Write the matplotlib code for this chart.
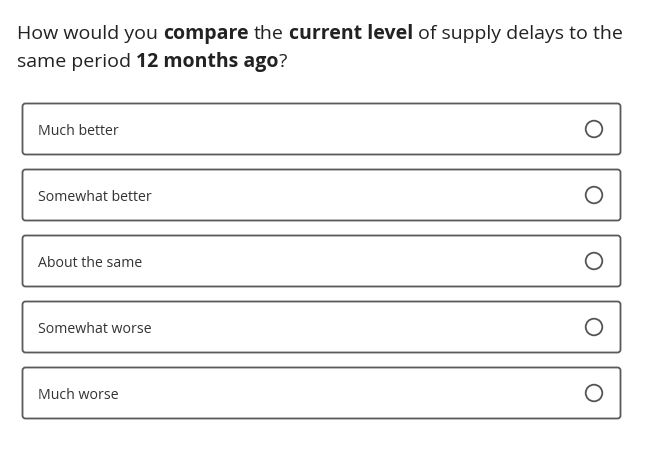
import matplotlib.pyplot as plt
from matplotlib.patches import FancyBboxPatch, Circle

# survey question, split into (text, bold) pieces per line
title_line1 = [("How would you", False), ("compare", True), ("the", False),
               ("current level", True), ("of supply delays to the", False)]
title_line2 = [("same period", False), ("12 months ago", True), ("?", False)]
options = ["Much better", "Somewhat better", "About the same",
           "Somewhat worse", "Much worse"]

W, H = 650, 452
fig = plt.figure(figsize=(W / 100, H / 100), dpi=100)
ax = fig.add_axes([0, 0, 1, 1])
ax.set_xlim(0, W)
ax.set_ylim(H, 0)
ax.axis('off')

font = "Open Sans"
tcol = "#222222"
renderer = fig.canvas.get_renderer()


def text_width(s, bold, size):
    t = ax.text(0, 0, s, fontsize=size, family=font,
                fontweight='bold' if bold else 'normal')
    w = t.get_window_extent(renderer).width
    t.remove()
    return w


def line_width(pieces, size):
    sp = text_width("x x", False, size) - text_width("xx", False, size)
    w = 0
    for i, (s, bold) in enumerate(pieces):
        if i > 0 and s != "?":
            w += sp
        w += text_width(s, bold, size)
    return w


# size the question so the first line spans about 17..621 px like the reference
title_size = 15.2 * 604 / line_width(title_line1, 15.2)
space_w = text_width("x x", False, title_size) - text_width("xx", False, title_size)


def draw_line(pieces, x0, y):
    x = x0
    for i, (s, bold) in enumerate(pieces):
        if i > 0 and s != "?":
            x += space_w
        ax.text(x, y, s, fontsize=title_size, family=font, color=tcol,
                fontweight='bold' if bold else 'normal', va='baseline', ha='left')
        x += text_width(s, bold, title_size)


draw_line(title_line1, 17, 39)
draw_line(title_line2, 17, 67)

# answer boxes
box_x, box_w, box_h = 22.5, 598, 51
top0, step = 104.5, 66
for i, label in enumerate(options):
    top = top0 + i * step
    ax.add_patch(FancyBboxPatch((box_x, top), box_w, box_h,
                                boxstyle="round,pad=0,rounding_size=3",
                                fill=False, edgecolor="#5a5a5a", linewidth=1.3))
    ax.text(38.5, top + box_h / 2 + 5, label, fontsize=10.2, family=font,
            color="#333333", va='baseline', ha='left')
    ax.add_patch(Circle((594, top + box_h / 2), 8.3, fill=False,
                        edgecolor="#555555", linewidth=1.3))

fig.savefig("out.png", dpi=100, facecolor="white")
